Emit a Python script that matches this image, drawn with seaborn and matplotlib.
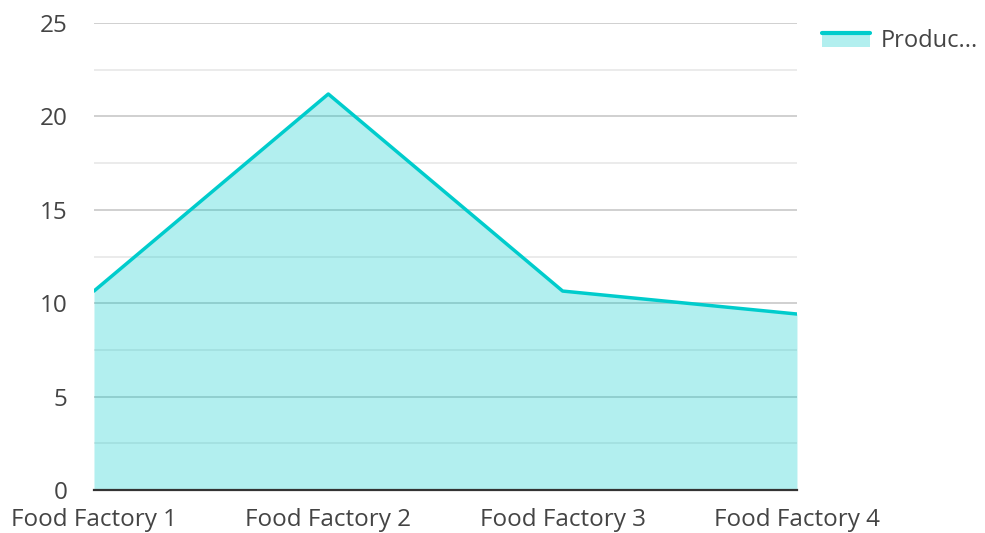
import matplotlib
matplotlib.use("Agg")
import matplotlib.pyplot as plt
import seaborn as sns
import pandas as pd
import numpy as np
from matplotlib.legend_handler import HandlerBase
from matplotlib.patches import Rectangle
from matplotlib.lines import Line2D

categories = ["Food Factory 1", "Food Factory 2", "Food Factory 3", "Food Factory 4"]
values = [10.65, 21.2, 10.65, 9.42]
series_name = "Produc..."
yticks = [0, 5, 10, 15, 20, 25]

sns.set_style("white")
plt.rcParams['font.family'] = ['Open Sans', 'DejaVu Sans']

LINE = "#00cccc"
FS = 17.5
df = pd.DataFrame({"x": np.arange(len(categories)), "y": values})

fig = plt.figure(figsize=(9.85, 5.33), dpi=100)
ax = fig.add_axes([0.0954, 0.0807, 0.7137, 0.8761])

for v in np.arange(2.5, 25.1, 2.5):
    major = abs(v % 5) < 1e-9
    ax.axhline(v, color="#c4c4c4" if major else "#e6e6e6", lw=1.1, zorder=0)

ax.fill_between(df["x"], df["y"], 0, color=LINE, alpha=0.3, lw=0, zorder=1)
sns.lineplot(data=df, x="x", y="y", ax=ax, color=LINE, lw=2.5, zorder=3, legend=False)

ax.set_xlim(0, len(categories) - 1)
ax.set_ylim(0, 25)
ax.set_xticks(range(len(categories)))
ax.set_xticklabels(categories)
ax.set_yticks(yticks)
ax.set_xlabel("")
ax.set_ylabel("")
for s in ["top", "right", "left"]:
    ax.spines[s].set_visible(False)
ax.spines["bottom"].set_color("#333333")
ax.spines["bottom"].set_linewidth(1.6)
ax.spines["bottom"].set_zorder(4)
ax.tick_params(axis="both", length=0, labelsize=FS, colors="#444444")
ax.tick_params(axis="y", pad=19)
ax.tick_params(axis="x", pad=13)


class AreaHandler(HandlerBase):
    def create_artists(self, legend, orig_handle, xdescent, ydescent, width, height, fontsize, trans):
        r = Rectangle((-xdescent, -ydescent), width, height, facecolor=LINE, alpha=0.3, lw=0, transform=trans)
        l = Line2D([-xdescent, -xdescent + width], [-ydescent + height - 1, -ydescent + height - 1], color=LINE, lw=3, transform=trans)
        return [r, l]


handle = Rectangle((0, 0), 1, 1)
leg = fig.legend([handle], [series_name], handler_map={Rectangle: AreaHandler()},
                 loc="upper left", bbox_to_anchor=(0.8345, 0.945), frameon=False,
                 borderpad=0, borderaxespad=0,
                 fontsize=17, handlelength=2.05, handleheight=0.64, handletextpad=0.42)
for t in leg.get_texts():
    t.set_color("#444444")

fig.savefig("out.png", dpi=100)
